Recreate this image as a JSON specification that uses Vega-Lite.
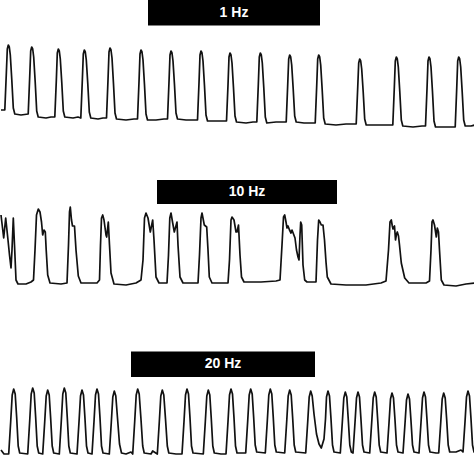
{
  "$schema": "https://vega.github.io/schema/vega-lite/v6.json",
  "padding": 0,
  "spacing": 0,
  "datasets": {
    "labels": [
      {"panel": "1 Hz", "start": 147, "end": 319, "low": 139.5, "high": 165},
      {"panel": "10 Hz", "start": 156, "end": 336, "low": 136, "high": 160},
      {"panel": "20 Hz", "start": 130, "end": 314, "low": 97, "high": 122.5}
    ],
    "hz1": [
      {"t": 0, "v": 55}, {"t": 3.8, "v": 55}, {"t": 5.3, "v": 91}, {"t": 6.3, "v": 116}, {"t": 7.3, "v": 120}, {"t": 8.3, "v": 118}, {"t": 9.3, "v": 110}, {"t": 10.8, "v": 85}, {"t": 12.3, "v": 57}, {"t": 13.8, "v": 51},
      {"t": 20, "v": 50}, {"t": 27.2, "v": 51}, {"t": 28.7, "v": 88}, {"t": 29.7, "v": 114}, {"t": 30.7, "v": 118}, {"t": 31.7, "v": 116}, {"t": 32.7, "v": 108}, {"t": 34.2, "v": 83}, {"t": 35.7, "v": 54}, {"t": 37.2, "v": 48},
      {"t": 45, "v": 47}, {"t": 50, "v": 48}, {"t": 53.8, "v": 48}, {"t": 55.3, "v": 84}, {"t": 56.3, "v": 112}, {"t": 57.3, "v": 116}, {"t": 58.3, "v": 114}, {"t": 59.3, "v": 106}, {"t": 60.8, "v": 82}, {"t": 62.3, "v": 54}, {"t": 63.8, "v": 48},
      {"t": 72, "v": 47}, {"t": 77, "v": 48}, {"t": 79.8, "v": 47}, {"t": 81.3, "v": 84}, {"t": 82.3, "v": 111}, {"t": 83.3, "v": 115}, {"t": 84.3, "v": 113}, {"t": 85.3, "v": 105}, {"t": 86.8, "v": 81}, {"t": 88.3, "v": 53}, {"t": 89.8, "v": 47},
      {"t": 97, "v": 46}, {"t": 102, "v": 47}, {"t": 105.5, "v": 47}, {"t": 107, "v": 85}, {"t": 108, "v": 113}, {"t": 109, "v": 117}, {"t": 110, "v": 115}, {"t": 111, "v": 107}, {"t": 112.5, "v": 81}, {"t": 114, "v": 52}, {"t": 115.5, "v": 46},
      {"t": 125, "v": 45}, {"t": 133, "v": 46}, {"t": 136.5, "v": 46}, {"t": 138, "v": 83}, {"t": 139, "v": 111}, {"t": 140, "v": 115}, {"t": 141, "v": 113}, {"t": 142, "v": 105}, {"t": 143.5, "v": 80}, {"t": 145, "v": 51}, {"t": 146.5, "v": 45},
      {"t": 155, "v": 45}, {"t": 163, "v": 46}, {"t": 166.5, "v": 46}, {"t": 168, "v": 83}, {"t": 169, "v": 110}, {"t": 170, "v": 114}, {"t": 171, "v": 112}, {"t": 172, "v": 104}, {"t": 173.5, "v": 80}, {"t": 175, "v": 52}, {"t": 176.5, "v": 46},
      {"t": 185, "v": 45}, {"t": 193, "v": 45}, {"t": 196.5, "v": 45}, {"t": 198, "v": 82}, {"t": 199, "v": 110}, {"t": 200, "v": 114}, {"t": 201, "v": 112}, {"t": 202, "v": 104}, {"t": 203.5, "v": 79}, {"t": 205, "v": 50}, {"t": 206.5, "v": 44},
      {"t": 214, "v": 44}, {"t": 222, "v": 44}, {"t": 225.5, "v": 44}, {"t": 227, "v": 80}, {"t": 228, "v": 108}, {"t": 229, "v": 112}, {"t": 230, "v": 110}, {"t": 231, "v": 102}, {"t": 232.5, "v": 77}, {"t": 234, "v": 49}, {"t": 235.5, "v": 43},
      {"t": 245, "v": 42}, {"t": 252, "v": 43}, {"t": 255.8, "v": 43}, {"t": 257.3, "v": 80}, {"t": 258.3, "v": 108}, {"t": 259.3, "v": 112}, {"t": 260.3, "v": 110}, {"t": 261.3, "v": 102}, {"t": 262.8, "v": 77}, {"t": 264.3, "v": 48}, {"t": 265.8, "v": 42},
      {"t": 275, "v": 43}, {"t": 282, "v": 43}, {"t": 285.2, "v": 43}, {"t": 286.7, "v": 80}, {"t": 287.7, "v": 106}, {"t": 288.7, "v": 110}, {"t": 289.7, "v": 108}, {"t": 290.7, "v": 100}, {"t": 292.2, "v": 76}, {"t": 293.7, "v": 49}, {"t": 295.2, "v": 43},
      {"t": 303, "v": 42}, {"t": 311, "v": 42}, {"t": 314.2, "v": 42}, {"t": 315.7, "v": 79}, {"t": 316.7, "v": 106}, {"t": 317.7, "v": 110}, {"t": 318.7, "v": 108}, {"t": 319.7, "v": 100}, {"t": 321.2, "v": 75}, {"t": 322.7, "v": 47}, {"t": 324.2, "v": 41},
      {"t": 335, "v": 40}, {"t": 345, "v": 41}, {"t": 355.2, "v": 41}, {"t": 356.7, "v": 77}, {"t": 357.7, "v": 102}, {"t": 358.7, "v": 106}, {"t": 359.7, "v": 104}, {"t": 360.7, "v": 96}, {"t": 362.2, "v": 73}, {"t": 363.7, "v": 46}, {"t": 365.2, "v": 40},
      {"t": 375, "v": 40}, {"t": 389, "v": 40}, {"t": 391.8, "v": 40}, {"t": 393.3, "v": 77}, {"t": 394.3, "v": 104}, {"t": 395.3, "v": 108}, {"t": 396.3, "v": 106}, {"t": 397.3, "v": 98}, {"t": 398.8, "v": 73}, {"t": 400.3, "v": 45}, {"t": 401.8, "v": 39},
      {"t": 412, "v": 38}, {"t": 421, "v": 39}, {"t": 424.5, "v": 39}, {"t": 426, "v": 76}, {"t": 427, "v": 104}, {"t": 428, "v": 108}, {"t": 429, "v": 106}, {"t": 430, "v": 98}, {"t": 431.5, "v": 73}, {"t": 433, "v": 44}, {"t": 434.5, "v": 38},
      {"t": 443, "v": 38}, {"t": 451, "v": 38}, {"t": 454.2, "v": 38}, {"t": 455.7, "v": 76}, {"t": 456.7, "v": 104}, {"t": 457.7, "v": 108}, {"t": 458.7, "v": 106}, {"t": 459.7, "v": 98}, {"t": 461.2, "v": 73}, {"t": 462.7, "v": 45}, {"t": 464.2, "v": 39},
      {"t": 470, "v": 39}, {"t": 474, "v": 40}
    ],
    "hz10": [
      {"t": 0, "v": 125}, {"t": 2.7, "v": 102}, {"t": 4.7, "v": 122}, {"t": 7, "v": 100}, {"t": 8.5, "v": 85}, {"t": 10, "v": 72}, {"t": 11, "v": 90}, {"t": 12.3, "v": 122}, {"t": 13.5, "v": 95}, {"t": 15, "v": 60}, {"t": 17, "v": 56}, {"t": 25, "v": 56}, {"t": 30, "v": 58}, {"t": 32.5, "v": 60},
      {"t": 34, "v": 90}, {"t": 35.5, "v": 125}, {"t": 37.3, "v": 131}, {"t": 39, "v": 128}, {"t": 40.5, "v": 118}, {"t": 41.7, "v": 105}, {"t": 43, "v": 110}, {"t": 44.3, "v": 108}, {"t": 45.2, "v": 90}, {"t": 46.7, "v": 65}, {"t": 49, "v": 57}, {"t": 60, "v": 56}, {"t": 66, "v": 57},
      {"t": 67.5, "v": 95}, {"t": 68.5, "v": 128}, {"t": 69.3, "v": 133}, {"t": 70.5, "v": 120}, {"t": 71.5, "v": 114}, {"t": 73.5, "v": 114}, {"t": 75, "v": 90}, {"t": 77.3, "v": 64}, {"t": 80, "v": 57}, {"t": 96, "v": 57}, {"t": 98.5, "v": 60},
      {"t": 99.5, "v": 95}, {"t": 100.5, "v": 122}, {"t": 101.7, "v": 125}, {"t": 103, "v": 120}, {"t": 105, "v": 105}, {"t": 105.7, "v": 103}, {"t": 107.3, "v": 118}, {"t": 108.5, "v": 95}, {"t": 110, "v": 67}, {"t": 113, "v": 56}, {"t": 125, "v": 55}, {"t": 135, "v": 57}, {"t": 140, "v": 60},
      {"t": 142, "v": 80}, {"t": 143.5, "v": 122}, {"t": 145, "v": 127}, {"t": 147, "v": 122}, {"t": 149.3, "v": 108}, {"t": 151.7, "v": 120}, {"t": 153, "v": 100}, {"t": 155, "v": 63}, {"t": 158, "v": 57}, {"t": 166, "v": 57},
      {"t": 167.5, "v": 85}, {"t": 168.8, "v": 122}, {"t": 170, "v": 127}, {"t": 171.7, "v": 117}, {"t": 173.3, "v": 108}, {"t": 176, "v": 118}, {"t": 177, "v": 95}, {"t": 179, "v": 63}, {"t": 182, "v": 57}, {"t": 197, "v": 57},
      {"t": 198.5, "v": 85}, {"t": 200, "v": 122}, {"t": 201, "v": 127}, {"t": 203.3, "v": 115}, {"t": 205.7, "v": 113}, {"t": 207, "v": 90}, {"t": 208.3, "v": 63}, {"t": 211, "v": 57}, {"t": 227, "v": 57},
      {"t": 228.5, "v": 80}, {"t": 230, "v": 120}, {"t": 231, "v": 123}, {"t": 233, "v": 120}, {"t": 235, "v": 108}, {"t": 236, "v": 108}, {"t": 237.5, "v": 115}, {"t": 239, "v": 85}, {"t": 240.5, "v": 63}, {"t": 243, "v": 58}, {"t": 260, "v": 58}, {"t": 275, "v": 59}, {"t": 279, "v": 60},
      {"t": 281, "v": 95}, {"t": 282.5, "v": 123}, {"t": 283.7, "v": 125}, {"t": 285, "v": 118}, {"t": 286, "v": 112}, {"t": 287, "v": 114}, {"t": 288.5, "v": 110}, {"t": 290, "v": 107}, {"t": 291, "v": 110}, {"t": 292.5, "v": 106}, {"t": 294, "v": 102}, {"t": 295.5, "v": 90}, {"t": 297, "v": 83}, {"t": 298, "v": 80}, {"t": 299, "v": 105}, {"t": 299.7, "v": 118}, {"t": 300.7, "v": 115}, {"t": 302, "v": 75}, {"t": 303.7, "v": 60}, {"t": 306, "v": 58}, {"t": 315, "v": 58},
      {"t": 316.5, "v": 100}, {"t": 317.7, "v": 120}, {"t": 319, "v": 118}, {"t": 320.3, "v": 115}, {"t": 322, "v": 115}, {"t": 323.5, "v": 100}, {"t": 325, "v": 78}, {"t": 326.3, "v": 63}, {"t": 330, "v": 56}, {"t": 345, "v": 55}, {"t": 365, "v": 55}, {"t": 380, "v": 57}, {"t": 385, "v": 59},
      {"t": 387.5, "v": 90}, {"t": 389, "v": 118}, {"t": 390.3, "v": 120}, {"t": 391.3, "v": 114}, {"t": 392, "v": 111}, {"t": 393.5, "v": 114}, {"t": 394.5, "v": 100}, {"t": 395.5, "v": 106}, {"t": 396.3, "v": 108}, {"t": 397.5, "v": 104}, {"t": 398.5, "v": 95}, {"t": 400.3, "v": 77}, {"t": 403.7, "v": 62}, {"t": 408, "v": 57}, {"t": 425, "v": 57}, {"t": 428.5, "v": 59},
      {"t": 430, "v": 90}, {"t": 431, "v": 118}, {"t": 432, "v": 120}, {"t": 433.5, "v": 115}, {"t": 435.3, "v": 103}, {"t": 436.3, "v": 112}, {"t": 437.5, "v": 108}, {"t": 438.5, "v": 90}, {"t": 440.3, "v": 60}, {"t": 443, "v": 55}, {"t": 455, "v": 54}, {"t": 465, "v": 56}, {"t": 474, "v": 57}
    ],
    "hz20": [
      {"t": 0, "v": 24}, {"t": 3, "v": 20},
      {"t": 7.7, "v": 20}, {"t": 9.7, "v": 52.5}, {"t": 11.2, "v": 79}, {"t": 12.7, "v": 85}, {"t": 14.2, "v": 80}, {"t": 15.7, "v": 56}, {"t": 17.2, "v": 28}, {"t": 18.7, "v": 21},
      {"t": 26.7, "v": 20}, {"t": 28.7, "v": 53}, {"t": 30.2, "v": 80}, {"t": 31.7, "v": 86}, {"t": 33.2, "v": 81}, {"t": 34.7, "v": 56}, {"t": 36.2, "v": 28}, {"t": 37.7, "v": 21},
      {"t": 41.7, "v": 20}, {"t": 43.7, "v": 52}, {"t": 45.2, "v": 78}, {"t": 46.7, "v": 84}, {"t": 48.2, "v": 79}, {"t": 49.7, "v": 55}, {"t": 51.2, "v": 28}, {"t": 52.7, "v": 21},
      {"t": 58.3, "v": 20}, {"t": 60.3, "v": 53}, {"t": 61.8, "v": 80}, {"t": 63.3, "v": 86}, {"t": 64.8, "v": 81}, {"t": 66.3, "v": 56}, {"t": 67.8, "v": 28}, {"t": 69.3, "v": 21},
      {"t": 76, "v": 20}, {"t": 78, "v": 52}, {"t": 79.5, "v": 78}, {"t": 81, "v": 84}, {"t": 82.5, "v": 79}, {"t": 84, "v": 55}, {"t": 85.5, "v": 28}, {"t": 87, "v": 21},
      {"t": 91, "v": 20}, {"t": 93, "v": 52.5}, {"t": 94.5, "v": 79}, {"t": 96, "v": 85}, {"t": 97.5, "v": 80}, {"t": 99, "v": 56}, {"t": 100.5, "v": 28}, {"t": 102, "v": 21},
      {"t": 108.3, "v": 20}, {"t": 110.3, "v": 51.5}, {"t": 111.8, "v": 77}, {"t": 113.3, "v": 83}, {"t": 114.8, "v": 78}, {"t": 116.5, "v": 56}, {"t": 118.5, "v": 30}, {"t": 120.5, "v": 21}, {"t": 125, "v": 20}, {"t": 130, "v": 22},
      {"t": 131.7, "v": 20}, {"t": 133.7, "v": 52.5}, {"t": 135.2, "v": 79}, {"t": 136.7, "v": 85}, {"t": 138.2, "v": 80}, {"t": 139.9, "v": 56}, {"t": 141.7, "v": 28}, {"t": 143.2, "v": 21}, {"t": 150, "v": 20}, {"t": 151.7, "v": 23},
      {"t": 156.3, "v": 20}, {"t": 158.3, "v": 52}, {"t": 159.8, "v": 78}, {"t": 161.3, "v": 84}, {"t": 162.8, "v": 79}, {"t": 164.5, "v": 55}, {"t": 166.3, "v": 28}, {"t": 167.8, "v": 21}, {"t": 175, "v": 20},
      {"t": 181, "v": 20}, {"t": 183, "v": 52.5}, {"t": 184.5, "v": 79}, {"t": 186, "v": 85}, {"t": 187.5, "v": 80}, {"t": 189, "v": 56}, {"t": 190.5, "v": 28}, {"t": 192, "v": 21},
      {"t": 202.3, "v": 20}, {"t": 204.3, "v": 52}, {"t": 205.8, "v": 78}, {"t": 207.3, "v": 84}, {"t": 208.8, "v": 79}, {"t": 210.3, "v": 55}, {"t": 211.8, "v": 28}, {"t": 213.3, "v": 21}, {"t": 220, "v": 20},
      {"t": 225, "v": 20}, {"t": 227, "v": 52.5}, {"t": 228.5, "v": 79}, {"t": 230, "v": 85}, {"t": 231.5, "v": 80}, {"t": 233, "v": 56}, {"t": 234.5, "v": 28}, {"t": 236, "v": 21}, {"t": 240, "v": 21},
      {"t": 244.7, "v": 21}, {"t": 246.7, "v": 53}, {"t": 248.2, "v": 79}, {"t": 249.7, "v": 85}, {"t": 251.2, "v": 80}, {"t": 252.7, "v": 56}, {"t": 254.2, "v": 29}, {"t": 255.7, "v": 22},
      {"t": 264.3, "v": 21}, {"t": 266.3, "v": 53}, {"t": 267.8, "v": 79}, {"t": 269.3, "v": 85}, {"t": 270.8, "v": 80}, {"t": 272.3, "v": 56}, {"t": 273.8, "v": 29}, {"t": 275.3, "v": 22},
      {"t": 283.7, "v": 21}, {"t": 285.7, "v": 52.5}, {"t": 287.2, "v": 78}, {"t": 288.7, "v": 84}, {"t": 290.2, "v": 79}, {"t": 291.7, "v": 55.5}, {"t": 293.2, "v": 29}, {"t": 294.7, "v": 22},
      {"t": 304.7, "v": 21}, {"t": 306.7, "v": 52}, {"t": 308.2, "v": 77}, {"t": 309.7, "v": 83}, {"t": 311.2, "v": 78}, {"t": 313, "v": 60}, {"t": 315.5, "v": 40}, {"t": 318, "v": 30}, {"t": 320.3, "v": 26},
      {"t": 323, "v": 35}, {"t": 324.5, "v": 55}, {"t": 325.5, "v": 77}, {"t": 327, "v": 83}, {"t": 328.5, "v": 78}, {"t": 330, "v": 55}, {"t": 331.5, "v": 29}, {"t": 333, "v": 22},
      {"t": 339.3, "v": 21}, {"t": 341.3, "v": 51.5}, {"t": 342.8, "v": 76}, {"t": 344.3, "v": 82}, {"t": 345.8, "v": 77}, {"t": 347.3, "v": 54}, {"t": 348.8, "v": 29}, {"t": 350.3, "v": 22},
      {"t": 352, "v": 21}, {"t": 354, "v": 51.5}, {"t": 355.5, "v": 76}, {"t": 357, "v": 82}, {"t": 358.5, "v": 77}, {"t": 360, "v": 54}, {"t": 361.5, "v": 29}, {"t": 363, "v": 22},
      {"t": 368.7, "v": 21}, {"t": 370.7, "v": 51.5}, {"t": 372.2, "v": 76}, {"t": 373.7, "v": 82}, {"t": 375.2, "v": 77}, {"t": 376.7, "v": 54}, {"t": 378.2, "v": 29}, {"t": 379.7, "v": 22},
      {"t": 386, "v": 21}, {"t": 388, "v": 51}, {"t": 389.5, "v": 75}, {"t": 391, "v": 81}, {"t": 392.5, "v": 76}, {"t": 394, "v": 54}, {"t": 395.5, "v": 29}, {"t": 397, "v": 22},
      {"t": 402, "v": 21}, {"t": 404, "v": 50.5}, {"t": 405.5, "v": 74}, {"t": 407, "v": 80}, {"t": 408.5, "v": 75}, {"t": 410, "v": 53}, {"t": 411.5, "v": 29}, {"t": 413, "v": 22},
      {"t": 418, "v": 21}, {"t": 420, "v": 51.5}, {"t": 421.5, "v": 76}, {"t": 423, "v": 82}, {"t": 424.5, "v": 77}, {"t": 426, "v": 54}, {"t": 427.5, "v": 29}, {"t": 429, "v": 22}, {"t": 435, "v": 21},
      {"t": 437.7, "v": 21}, {"t": 439.7, "v": 51}, {"t": 441.2, "v": 75}, {"t": 442.7, "v": 81}, {"t": 444.2, "v": 76}, {"t": 445.7, "v": 54}, {"t": 447.2, "v": 29}, {"t": 448.7, "v": 22}, {"t": 455, "v": 22}, {"t": 460, "v": 24},
      {"t": 462, "v": 22}, {"t": 464, "v": 52}, {"t": 465.5, "v": 77}, {"t": 467, "v": 83}, {"t": 468.5, "v": 78}, {"t": 470, "v": 55}, {"t": 471.5, "v": 29}, {"t": 473, "v": 22}, {"t": 474, "v": 24}
    ]
  },
  "vconcat": [
    {
      "width": 474,
      "height": 165,
      "layer": [
        {
          "data": {"name": "labels"},
          "transform": [{"filter": "datum.panel === '1 Hz'"}],
          "mark": {"type": "rect", "color": "#000000"},
          "encoding": {
            "x": {"field": "start", "type": "quantitative", "scale": {"domain": [0, 474], "nice": false, "zero": false}, "axis": null},
            "x2": {"field": "end"},
            "y": {"field": "low", "type": "quantitative", "scale": {"domain": [0, 165], "nice": false}, "axis": null},
            "y2": {"field": "high"}
          }
        },
        {
          "data": {"name": "labels"},
          "transform": [
            {"filter": "datum.panel === '1 Hz'"},
            {"calculate": "(datum.start + datum.end) / 2", "as": "cx"},
            {"calculate": "(datum.low + datum.high) / 2", "as": "cy"}
          ],
          "mark": {"type": "text", "color": "#ffffff", "font": "Liberation Sans", "fontWeight": "bold", "fontSize": 14, "baseline": "middle", "align": "center"},
          "encoding": {
            "x": {"field": "cx", "type": "quantitative"},
            "y": {"field": "cy", "type": "quantitative"},
            "text": {"field": "panel"}
          }
        },
        {
          "data": {"name": "hz1"},
          "mark": {"type": "line", "color": "#111111", "strokeWidth": 1.7, "strokeJoin": "round"},
          "encoding": {
            "x": {"field": "t", "type": "quantitative"},
            "y": {"field": "v", "type": "quantitative"}
          }
        }
      ]
    },
    {
      "width": 474,
      "height": 175,
      "layer": [
        {
          "data": {"name": "labels"},
          "transform": [{"filter": "datum.panel === '10 Hz'"}],
          "mark": {"type": "rect", "color": "#000000"},
          "encoding": {
            "x": {"field": "start", "type": "quantitative", "scale": {"domain": [0, 474], "nice": false, "zero": false}, "axis": null},
            "x2": {"field": "end"},
            "y": {"field": "low", "type": "quantitative", "scale": {"domain": [0, 175], "nice": false}, "axis": null},
            "y2": {"field": "high"}
          }
        },
        {
          "data": {"name": "labels"},
          "transform": [
            {"filter": "datum.panel === '10 Hz'"},
            {"calculate": "(datum.start + datum.end) / 2", "as": "cx"},
            {"calculate": "(datum.low + datum.high) / 2", "as": "cy"}
          ],
          "mark": {"type": "text", "color": "#ffffff", "font": "Liberation Sans", "fontWeight": "bold", "fontSize": 14, "baseline": "middle", "align": "center"},
          "encoding": {
            "x": {"field": "cx", "type": "quantitative"},
            "y": {"field": "cy", "type": "quantitative"},
            "text": {"field": "panel"}
          }
        },
        {
          "data": {"name": "hz10"},
          "mark": {"type": "line", "color": "#111111", "strokeWidth": 1.7, "strokeJoin": "round"},
          "encoding": {
            "x": {"field": "t", "type": "quantitative"},
            "y": {"field": "v", "type": "quantitative"}
          }
        }
      ]
    },
    {
      "width": 474,
      "height": 134,
      "layer": [
        {
          "data": {"name": "labels"},
          "transform": [{"filter": "datum.panel === '20 Hz'"}],
          "mark": {"type": "rect", "color": "#000000"},
          "encoding": {
            "x": {"field": "start", "type": "quantitative", "scale": {"domain": [0, 474], "nice": false, "zero": false}, "axis": null},
            "x2": {"field": "end"},
            "y": {"field": "low", "type": "quantitative", "scale": {"domain": [0, 134], "nice": false}, "axis": null},
            "y2": {"field": "high"}
          }
        },
        {
          "data": {"name": "labels"},
          "transform": [
            {"filter": "datum.panel === '20 Hz'"},
            {"calculate": "(datum.start + datum.end) / 2", "as": "cx"},
            {"calculate": "(datum.low + datum.high) / 2", "as": "cy"}
          ],
          "mark": {"type": "text", "color": "#ffffff", "font": "Liberation Sans", "fontWeight": "bold", "fontSize": 14, "baseline": "middle", "align": "center"},
          "encoding": {
            "x": {"field": "cx", "type": "quantitative"},
            "y": {"field": "cy", "type": "quantitative"},
            "text": {"field": "panel"}
          }
        },
        {
          "data": {"name": "hz20"},
          "mark": {"type": "line", "color": "#111111", "strokeWidth": 1.7, "strokeJoin": "round"},
          "encoding": {
            "x": {"field": "t", "type": "quantitative"},
            "y": {"field": "v", "type": "quantitative"}
          }
        }
      ]
    }
  ],
  "config": {
    "view": {"stroke": null},
    "concat": {"spacing": 0}
  }
}
